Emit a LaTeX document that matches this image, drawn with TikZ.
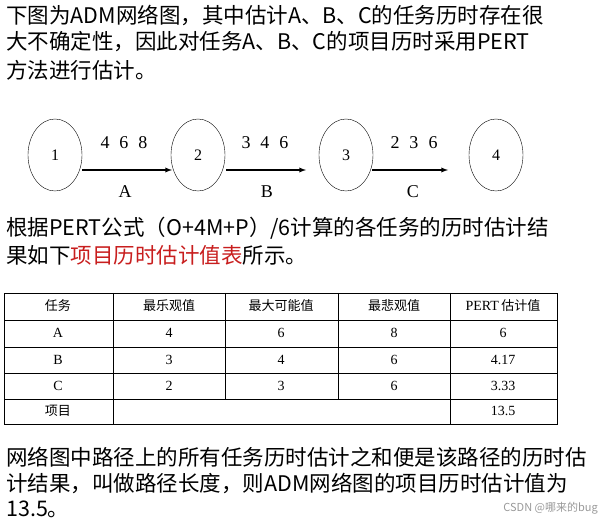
\documentclass[tikz,border=0pt]{standalone}
\usepackage{fontspec}
\usetikzlibrary{shapes.geometric}
\setmainfont{Liberation Serif}
\newfontfamily\cjk{Noto Sans CJK SC}
\definecolor{redtxt}{RGB}{200,30,30}
\begin{document}
\begin{tikzpicture}[x=1pt,y=-1pt,
  para/.style={anchor=west,inner sep=0pt,font=\cjk\fontsize{21.5}{23}\selectfont},
  ev/.style={draw,ellipse,minimum width=54pt,minimum height=72pt,inner sep=0pt,font=\fontsize{16}{18}\selectfont},
  lab/.style={font=\fontsize{18}{20}\selectfont,inner sep=0pt},
  act/.style={draw,line width=1.3pt,-latex},
  cell/.style={font=\fontsize{14}{16}\selectfont,inner sep=0pt},
  ccell/.style={font=\cjk\fontsize{13}{15}\selectfont,inner sep=0pt}]
\useasboundingbox (0,0) rectangle (606,524);
\node[para] (p1) at (6,15) {下图为ADM网络图，其中估计A、B、C的任务历时存在很};
\node[para] (p2) at (6,42) {大不确定性，因此对任务A、B、C的项目历时采用PERT};
\node[para] (p3) at (6,70) {方法进行估计。};
\node[ev] (e1) at (55,155) {1};
\node[ev] (e2) at (198,155) {2};
\node[ev] (e3) at (346,155) {3};
\node[ev] (e4) at (496,155) {4};
\coordinate (a1) at (82,170); \coordinate (a2) at (172,170);
\coordinate (b1) at (226,170); \coordinate (b2) at (306,170);
\coordinate (c1) at (372,170); \coordinate (c2) at (448,170);
\draw[act] (a1) -- (a2);
\draw[act] (b1) -- (b2);
\draw[act] (c1) -- (c2);
\node[lab] (la) at (124,143) {4\hspace{10pt}6\hspace{10pt}8};
\node[lab] (lb) at (265,143) {3\hspace{10pt}4\hspace{10pt}6};
\node[lab] (lc) at (414,143) {2\hspace{10pt}3\hspace{10pt}6};
\node[lab] (na) at (125,192) {A};
\node[lab] (nb) at (267,192) {B};
\node[lab] (nc) at (413,192) {C};
\node[para] (q1) at (6,228) {根据PERT公式（O+4M+P）/6计算的各任务的历时估计结};
\node[para] (q2) at (6,255) {果如下\textcolor{redtxt}{项目历时估计值表}所示。};
\draw[line width=0.8pt] (4,293) rectangle (557,424);
\foreach \y in {320,347,373,399} \draw[line width=0.8pt] (4,\y) -- (557,\y);
\foreach \x in {113,450} \draw[line width=0.8pt] (\x,293) -- (\x,424);
\foreach \x in {225,338} \draw[line width=0.8pt] (\x,293) -- (\x,399);
\node[ccell] (h1) at (58,306) {任务};
\node[ccell] (h2) at (169,306) {最乐观值};
\node[ccell] (h3) at (281,306) {最大可能值};
\node[ccell] (h4) at (394,306) {最悲观值};
\node[cell] (h5) at (503,306) {PERT\,{\cjk\fontsize{13}{15}\selectfont 估计值}};
\foreach \r/\y/\a/\b/\c/\d in {A/333/4/6/8/6, B/360/3/4/6/4.17, C/386/2/3/6/3.33}{
  \node[cell] at (58,\y) {\r};
  \node[cell] at (169,\y) {\a};
  \node[cell] at (281,\y) {\b};
  \node[cell] at (394,\y) {\c};
  \node[cell] at (503,\y) {\d};
}
\node[ccell] (xm) at (58,411) {项目};
\node[cell] (xv) at (503,411) {13.5};
\node[para] (r1) at (6,457) {网络图中路径上的所有任务历时估计之和便是该路径的历时估};
\node[para] (r2) at (6,483) {计结果，叫做路径长度，则ADM网络图的项目历时估计值为};
\node[para] (r3) at (6,509) {13.5。};
\node[anchor=east,inner sep=0pt,text=gray!80,font=\cjk\fontsize{11}{13}\selectfont] (wm) at (598,508) {CSDN @哪来的bug};
\end{tikzpicture}
\end{document}
